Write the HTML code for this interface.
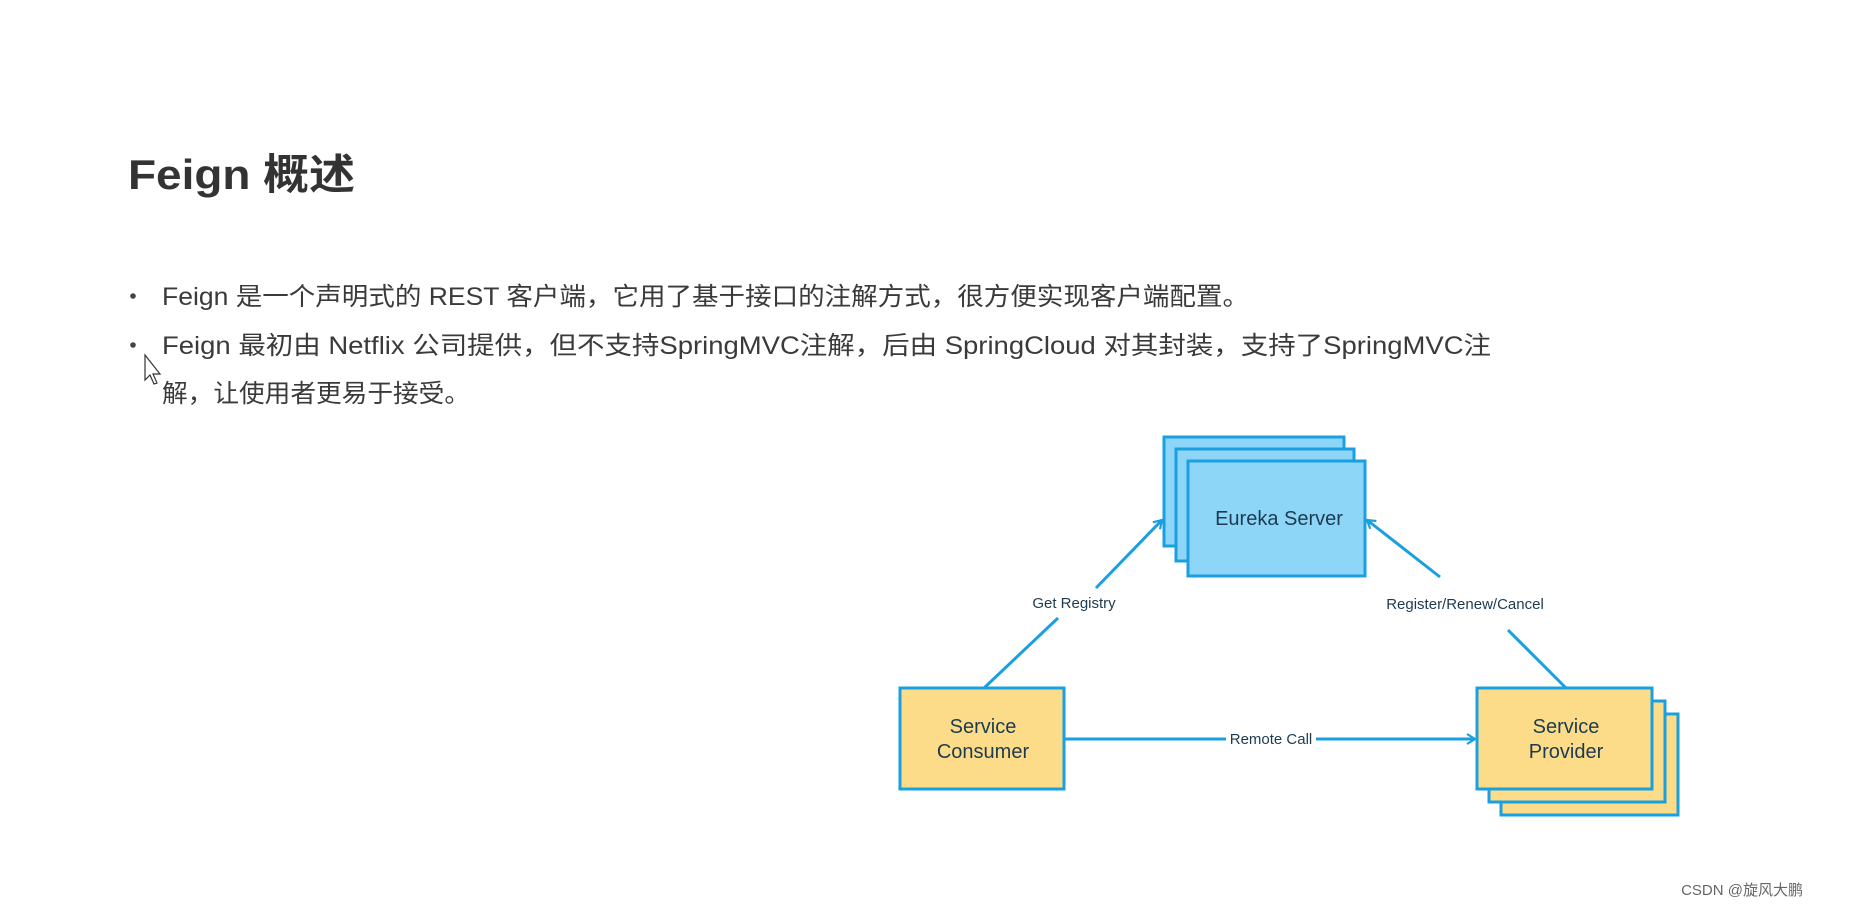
<!DOCTYPE html>
<html><head><meta charset="utf-8"><style>
html,body{margin:0;padding:0;background:#fff;}
svg{display:block;}
</style></head><body>
<svg width="1853" height="911" viewBox="0 0 1853 911" xmlns="http://www.w3.org/2000/svg">
<defs>
<marker id="ar" markerWidth="12" markerHeight="12" refX="9" refY="6" orient="auto" markerUnits="userSpaceOnUse">
<path d="M1,1 L9,6 L1,11" fill="none" stroke="#1aa0e0" stroke-width="2.2"/>
</marker>
</defs>
<rect width="1853" height="911" fill="#fff"/>
<g font-family="'Liberation Sans','Noto Sans CJK SC',sans-serif" fill="#3a3a3a">
<text x="128" y="189" font-size="42" font-weight="bold" textLength="227" lengthAdjust="spacingAndGlyphs" fill="#333">Feign 概述</text>
<circle cx="133" cy="296" r="2.8" fill="#444"/>
<circle cx="133" cy="345" r="2.8" fill="#444"/>
<text x="162" y="305" font-size="25" textLength="1087" lengthAdjust="spacingAndGlyphs">Feign 是一个声明式的 REST 客户端，它用了基于接口的注解方式，很方便实现客户端配置。</text>
<text x="162" y="354" font-size="25" textLength="1329" lengthAdjust="spacingAndGlyphs">Feign 最初由 Netflix 公司提供，但不支持SpringMVC注解，后由 SpringCloud 对其封装，支持了SpringMVC注</text>
<text x="162" y="402" font-size="25" textLength="308" lengthAdjust="spacingAndGlyphs">解，让使用者更易于接受。</text>
</g>
<path d="M145,355 L145,380 L150,375 L154,384 L157,383 L153,374 L160,374 Z" fill="#fff" stroke="#333" stroke-width="1.2"/>
<g stroke="#1aa0e0" stroke-width="3" fill="#8dd6f7">
<rect x="1164" y="437" width="180" height="109"/>
<rect x="1176" y="449" width="178" height="112"/>
<rect x="1188" y="461" width="177" height="115"/>
</g>
<g stroke="#1aa0e0" stroke-width="3" fill="#fcdc88">
<rect x="1501" y="714" width="177" height="101"/>
<rect x="1489" y="701" width="176" height="101"/>
<rect x="1477" y="688" width="175" height="101"/>
</g>
<rect x="900" y="688" width="164" height="101" stroke="#1aa0e0" stroke-width="3" fill="#fcdc88"/>
<g stroke="#1aa0e0" stroke-width="3" fill="none">
<line x1="984" y1="688" x2="1058" y2="618"/>
<line x1="1096" y1="588" x2="1162" y2="520" marker-end="url(#ar)"/>
<line x1="1566" y1="688" x2="1508" y2="630"/>
<line x1="1440" y1="577" x2="1367" y2="520" marker-end="url(#ar)"/>
<line x1="1064" y1="739" x2="1226" y2="739"/>
<line x1="1316" y1="739" x2="1475" y2="739" marker-end="url(#ar)"/>
</g>
<g font-family="'Liberation Sans',sans-serif" fill="#1d3b50" text-anchor="middle">
<text x="1279" y="525" font-size="20">Eureka Server</text>
<text x="983" y="733" font-size="20">Service</text>
<text x="983" y="758" font-size="20">Consumer</text>
<text x="1566" y="733" font-size="20">Service</text>
<text x="1566" y="758" font-size="20">Provider</text>
<text x="1074" y="608" font-size="15">Get Registry</text>
<text x="1465" y="609" font-size="15">Register/Renew/Cancel</text>
<text x="1271" y="744" font-size="15">Remote Call</text>
</g>
<text x="1803" y="895" font-family="'Liberation Sans','Noto Sans CJK SC',sans-serif" font-size="15" fill="#666" text-anchor="end">CSDN @旋风大鹏</text>
</svg>
</body></html>
